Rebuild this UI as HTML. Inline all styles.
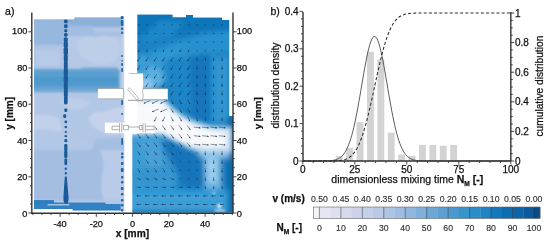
<!DOCTYPE html>
<html><head><meta charset="utf-8"><style>
html,body{margin:0;padding:0;background:#fff;width:550px;height:243px;overflow:hidden}
svg{display:block}
text{font-family:"Liberation Sans", Arial, Helvetica, sans-serif;fill:#111;stroke:#111;stroke-width:0.25px}
text.g{fill:#333;stroke:#333;stroke-width:0.15px}
</style></head><body>
<svg width="550" height="243" viewBox="0 0 550 243">
<defs>
<filter id="bl1" x="-20%" y="-20%" width="140%" height="140%"><feGaussianBlur stdDeviation="1"/></filter>
<filter id="bl2" x="-20%" y="-20%" width="140%" height="140%"><feGaussianBlur stdDeviation="2.5"/></filter>
<filter id="bl3" x="-30%" y="-30%" width="160%" height="160%"><feGaussianBlur stdDeviation="2.6"/></filter>
<clipPath id="cl"><path d="M34,19.5 H74.5 V17.6 H124.4 V210.5 H72.7 V209 H34 Z"/></clipPath>
<clipPath id="cr"><path d="M131.5,14.8 H172.4 V17.6 H186 V15.1 H193 V17.8 H222 V19.9 H229.4 V116 H233 V212.5 H131.5 Z"/></clipPath>
<marker id="ah" viewBox="0 0 4 4" refX="3" refY="2" markerWidth="2.2" markerHeight="2.2" orient="auto" markerUnits="userSpaceOnUse"><path d="M0,0 L4,2 L0,4 Z" fill="#152335"/></marker>
</defs>

<g clip-path="url(#cl)">
<rect x="30" y="10" width="100" height="210" fill="#b2c6e5"/>
<g filter="url(#bl1)">
<path d="M30,10 H130 V27 H30 Z" fill="#8db0d9"/>
<path d="M30,20 H66 V45 H30 Z" fill="#96b7de"/>
<path d="M66,26 H92 L95,33 H126 V36 H66 Z" fill="#a1bee2"/>
<path d="M30,45 H66 V68 H30 Z" fill="#adc4e4"/>
<path d="M36,50 H60 V66 H36 Z" fill="#b7cae7"/>
<path d="M66,36 H126 V68 H66 Z" fill="#b5c9e6"/>
<path d="M78,42 Q85,34 95,38 Q105,33 118,38 L121,50 Q118,62 108,64 Q98,66 90,60 Q80,58 78,50 Z" fill="#bdcee9"/>
<path d="M30,68.8 H80 L84,67.5 H117 L119.5,70 V93.5 H30 Z" fill="#6aa6d4"/>
<path d="M30,71 H119 V88 H30 Z" fill="#5a9fd0"/>
<path d="M30,77 H119 V85 H30 Z" fill="#4f9acc"/>
<path d="M30,88 H119 V93.5 H30 Z" fill="#6ea8d5"/>
<path d="M30,92 H119 V93.2 H30 Z" fill="#9dbde0"/>
<path d="M30,93 H126 V150 H30 Z" fill="#b2c6e5"/>
<path d="M34,95 H36 V211 H34 Z" fill="#bfcbe9"/>
<path d="M34,116 Q45,112 58,118 Q64,128 58,138 Q45,142 34,138 Z" fill="#c2d1ea"/>
<path d="M88,118 Q95,110 105,112 Q115,106 125,108 V134 Q112,136 102,132 Q92,128 88,118 Z" fill="#c4d3eb"/>
<path d="M60,100 Q75,96 90,102 Q88,110 70,110 Z" fill="#bdcee9"/>
<path d="M86,140 L125,137 V152 L90,150 Z" fill="#a5bfe2"/>
<path d="M30,148 H126 V200 H30 Z" fill="#a4bee1"/>
<path d="M99,150 Q107,160 102,175 Q100,190 104,200 H126 V150 Z" fill="#bacbe9"/>
<path d="M30,130 Q50,128 70,134 Q80,140 95,140 L92,150 H30 Z" fill="#b3c7e6"/>
<path d="M122.5,17 H126 V140 H122.5 Z" fill="#ccd7ee"/>
</g>
<path d="M30,200.2 H54 V202.4 H105.4 V204 H120.7 V215 H30 Z" fill="#3282c3"/>
<path d="M30,200.2 H54 V204 H30 Z" fill="#2e7ec0"/>
<path d="M47.6,204.1 H69.4 V205.6 H47.6 Z" fill="#a3c4e6"/>
<g>
</g>
</g>
<rect x="63.90" y="19.60" width="3.80" height="3.60" rx="1.52" fill="#1a5a99" opacity="1"/><rect x="64.00" y="24.30" width="3.60" height="3.90" rx="1.44" fill="#1a5a99" opacity="1"/><rect x="64.20" y="29.20" width="3.20" height="3.00" rx="1.28" fill="#1a5a99" opacity="1"/><rect x="64.00" y="33.00" width="3.60" height="3.80" rx="1.44" fill="#1a5a99" opacity="1"/><rect x="63.80" y="37.20" width="4.00" height="4.80" rx="1.60" fill="#1a5a99" opacity="1"/><rect x="63.70" y="41.00" width="4.20" height="7.00" rx="1.68" fill="#1a5a99" opacity="1"/><rect x="63.60" y="47.00" width="4.40" height="8.00" rx="1.76" fill="#1a5a99" opacity="1"/><rect x="63.80" y="54.00" width="4.00" height="8.00" rx="1.60" fill="#1a5a99" opacity="1"/><rect x="63.85" y="61.00" width="3.90" height="8.00" rx="1.56" fill="#1a5a99" opacity="1"/><rect x="63.70" y="68.00" width="4.20" height="8.00" rx="1.68" fill="#1a5a99" opacity="1"/><rect x="63.60" y="75.00" width="4.40" height="8.00" rx="1.76" fill="#1a5a99" opacity="1"/><rect x="63.75" y="82.00" width="4.10" height="8.00" rx="1.64" fill="#1a5a99" opacity="1"/><rect x="63.85" y="89.00" width="3.90" height="8.00" rx="1.56" fill="#1a5a99" opacity="1"/><rect x="63.95" y="96.00" width="3.70" height="8.50" rx="1.48" fill="#1a5a99" opacity="1"/><rect x="64.30" y="108.50" width="3.00" height="3.50" rx="1.20" fill="#1a5a99" opacity="1"/><rect x="64.50" y="120.50" width="2.60" height="2.70" rx="1.04" fill="#1a5a99" opacity="1"/><rect x="64.60" y="125.80" width="2.40" height="2.40" rx="0.96" fill="#1a5a99" opacity="1"/><rect x="64.70" y="131.00" width="2.20" height="2.00" rx="0.88" fill="#1a5a99" opacity="1"/><rect x="64.50" y="135.00" width="2.60" height="2.20" rx="1.04" fill="#1a5a99" opacity="1"/><rect x="64.30" y="139.00" width="3.00" height="3.20" rx="1.20" fill="#1a5a99" opacity="1"/><rect x="64.20" y="144.00" width="3.20" height="7.00" rx="1.28" fill="#1a5a99" opacity="1"/><rect x="64.20" y="150.50" width="3.20" height="7.50" rx="1.28" fill="#1a5a99" opacity="1"/><rect x="64.40" y="158.50" width="2.80" height="6.50" rx="1.12" fill="#1a5a99" opacity="1"/><rect x="64.70" y="167.50" width="2.20" height="2.50" rx="0.88" fill="#1a5a99" opacity="1"/><rect x="64.70" y="172.00" width="2.20" height="2.50" rx="0.88" fill="#1a5a99" opacity="1"/><rect x="64.70" y="176.50" width="2.20" height="2.50" rx="0.88" fill="#1a5a99" opacity="1"/>
<rect x="63.2" y="114.3" width="3" height="3.6" rx="1.2" fill="#1a5a99"/>
<path d="M64.6,179 Q65.8,176.5 67,179 L68.6,198 Q68.6,203.8 66,203.8 Q63.4,203.8 63.4,198 Z" fill="#1a5a99"/>
<rect x="120.60" y="16.00" width="3.00" height="3.00" rx="1.20" fill="#2367a8" opacity="1"/><rect x="120.80" y="20.00" width="2.60" height="6.00" rx="1.04" fill="#2367a8" opacity="1"/><rect x="120.90" y="27.50" width="2.40" height="2.50" rx="0.96" fill="#2367a8" opacity="1"/><rect x="121.00" y="31.50" width="2.20" height="2.50" rx="0.88" fill="#2367a8" opacity="1"/><rect x="121.20" y="55.00" width="1.80" height="2.00" rx="0.72" fill="#2367a8" opacity="1"/><rect x="121.30" y="60.00" width="1.60" height="1.50" rx="0.64" fill="#2367a8" opacity="1"/><rect x="121.20" y="63.00" width="1.80" height="3.00" rx="0.72" fill="#2367a8" opacity="1"/><rect x="121.20" y="68.00" width="1.80" height="4.00" rx="0.72" fill="#2367a8" opacity="1"/><rect x="121.20" y="100.00" width="1.80" height="5.00" rx="0.72" fill="#2367a8" opacity="1"/><rect x="121.20" y="113.00" width="1.80" height="2.00" rx="0.72" fill="#2367a8" opacity="1"/><rect x="121.20" y="138.00" width="1.80" height="7.00" rx="0.72" fill="#2367a8" opacity="1"/>
<rect x="121.00" y="152.50" width="2.40" height="2.50" rx="0.96" fill="#1f66a8" opacity="1"/><rect x="120.90" y="156.00" width="2.60" height="2.50" rx="1.04" fill="#1f66a8" opacity="1"/><rect x="120.90" y="162.00" width="2.60" height="3.00" rx="1.04" fill="#1f66a8" opacity="1"/><rect x="120.80" y="168.00" width="2.80" height="4.00" rx="1.12" fill="#1f66a8" opacity="1"/><rect x="121.00" y="176.00" width="2.40" height="2.50" rx="0.96" fill="#1f66a8" opacity="1"/><rect x="120.90" y="181.00" width="2.60" height="2.50" rx="1.04" fill="#1f66a8" opacity="1"/><rect x="120.80" y="187.00" width="2.80" height="3.00" rx="1.12" fill="#1f66a8" opacity="1"/><rect x="120.90" y="193.00" width="2.60" height="2.50" rx="1.04" fill="#1f66a8" opacity="1"/><rect x="120.90" y="199.00" width="2.60" height="2.50" rx="1.04" fill="#1f66a8" opacity="1"/><rect x="120.90" y="204.00" width="2.60" height="2.50" rx="1.04" fill="#1f66a8" opacity="1"/><rect x="120.90" y="209.00" width="2.60" height="2.50" rx="1.04" fill="#1f66a8" opacity="1"/>
<g clip-path="url(#cr)">
<rect x="125" y="10" width="112" height="205" fill="#1980c2"/>
<g filter="url(#bl2)">
<path d="M125,10 H237 V34 H125 Z" fill="#1174ba"/>
<path d="M180,30 H237 V52 H180 Z" fill="#1478bd"/>
<path d="M237,30 V52 L200,54 L178,66 L165,85 L150,92 L131,92 L131,60 L150,50 L180,40 L205,33 Z" fill="#2591ce"/>
<path d="M185,45 L170,60 L160,75 L148,88 L136,88 L136,66 L152,56 L170,48 Z" fill="#2e99d4"/>
<path d="M160,20 L185,22 L170,36 L150,44 L140,40 Z" fill="#1e87c8"/>
<ellipse cx="150" cy="78" rx="14" ry="12" fill="#5aaee0"/>
<ellipse cx="142" cy="64" rx="6" ry="10" fill="#3a9dd6"/>
<ellipse cx="146" cy="84" rx="7" ry="5" fill="#95cbef"/>
<path d="M189,56 L211,54 L212,122 L192,118 Z" fill="#1574bb"/>
<path d="M213,58 L229,56 L229,122 L213,122 Z" fill="#3094d1"/>
<path d="M211,55 L216,55 L216,122 L211,122 Z" fill="#2895d2"/>
<path d="M165,60 L190,58 L192,110 L170,100 Z" fill="#1c85c6"/>
<path d="M125,132 L182,138 L176,192 L125,192 Z" fill="#3595d0"/>
<path d="M131,136 L165,138 L160,165 L131,170 Z" fill="#3d9dd5"/>
<path d="M140,140 L158,140 L165,165 L150,168 Z" fill="#4aa0d8"/>
<path d="M165,135 L180,138 L195,145 L205,150 L206,170 L204,190 L188,192 L178,175 L170,160 L162,145 Z" fill="#1775ba"/>
<path d="M221,145 H237 V215 H221 Z" fill="#177abe"/>
<path d="M203,150 L221,150 L221,192 L205,194 Z" fill="#6fb5e3"/>
<path d="M207,152 L217,152 L217,182 L208,182 Z" fill="#9ccdee"/>
<path d="M227.5,116 H237 V215 H227.5 Z" fill="#0d66a5"/>
<path d="M196,146 L229,149 L229,158 L200,157 Z" fill="#86c0e8"/>
<path d="M125,189 H228 V215 H125 Z" fill="#2c99d5"/>
<path d="M125,196.5 H225 V199.5 H125 Z" fill="#55a9dc"/>
<path d="M125,205 H225 V208 H125 Z" fill="#52a7db"/>
<path d="M125,210.5 H237 V215 H125 Z" fill="#1777bb"/>
</g>
<g filter="url(#bl3)">
<path d="M125,99 L163,98 L172,107 L182,115 L194,121 L210,126 L232,127 L232,152 L210,152 L192,150 L178,143 L162,135 L125,135 Z" fill="#d2e3f3"/>
<path d="M125,101 L161,101 L169,109 L180,118 L195,126 L212,131 L226,134 L226,146 L210,147 L193,146 L178,140 L162,133 L125,133 Z" fill="#f7f9fc"/>
</g>
<g filter="url(#bl1)">
<circle cx="219.3" cy="206" r="2.3" fill="#d2e4f3"/>
<ellipse cx="220" cy="210.5" rx="6" ry="1.3" fill="#b0d8f0"/>
<circle cx="214" cy="193" r="1.5" fill="#a0cdef"/>
</g>
</g>
<rect x="124.5" y="0" width="12.8" height="134" fill="#fff"/>
<rect x="124.5" y="73.5" width="18.6" height="27" fill="#fff"/>
<rect x="124.5" y="133" width="7.8" height="80" fill="#fff"/>
<rect x="229.4" y="0" width="3.6" height="116" fill="#fff"/>
<path d="M137.8,24.8L139.8,25.0 M137.8,33.3L139.8,33.6 M137.8,41.9L139.8,42.1 M139.5,49.4L138.1,51.7 M140.1,57.1L137.5,61.1 M140.1,65.6L137.5,69.7 M137.3,133.9L140.3,138.2 M137.3,142.5L140.3,146.7 M137.7,151.3L139.9,155.0 M137.7,159.8L139.9,163.6 M137.7,168.4L139.9,172.1 M137.0,178.1L140.6,179.5 M136.8,187.2L140.8,187.5 M140.8,195.9L136.8,195.9 M140.8,204.5L136.8,204.5 M146.1,24.8L148.1,25.0 M146.1,33.3L148.1,33.6 M146.1,41.9L148.1,42.1 M147.8,49.4L146.4,51.7 M148.4,57.1L145.9,61.1 M148.4,65.6L145.9,69.7 M148.4,74.2L145.9,78.2 M148.4,82.7L145.9,86.8 M150.3,100.4L143.9,103.3 M145.6,133.9L148.6,138.2 M145.6,142.5L148.6,146.7 M146.0,151.3L148.3,155.0 M146.0,159.8L148.3,163.6 M146.0,168.4L148.3,172.1 M145.4,178.1L148.9,179.5 M145.1,187.2L149.1,187.5 M149.1,195.9L145.1,195.9 M149.1,204.5L145.1,204.5 M154.5,24.8L156.4,25.0 M154.5,33.3L156.4,33.6 M154.5,41.9L156.4,42.1 M156.1,49.4L154.8,51.7 M156.7,57.1L154.2,61.1 M156.7,65.6L154.2,69.7 M156.7,74.2L154.2,78.2 M156.7,82.7L154.2,86.8 M158.6,100.4L152.2,103.3 M158.6,109.0L152.2,111.8 M156.6,116.7L154.3,121.2 M153.9,125.4L156.9,129.6 M153.9,133.9L156.9,138.2 M153.9,142.5L156.9,146.7 M154.3,151.3L156.6,155.0 M154.3,159.8L156.6,163.6 M154.3,168.4L156.6,172.1 M153.7,178.1L157.2,179.5 M153.4,187.2L157.4,187.5 M157.4,195.9L153.4,195.9 M157.4,204.5L153.4,204.5 M162.8,24.8L164.7,25.0 M162.8,33.3L164.7,33.6 M162.8,41.9L164.7,42.1 M164.4,49.4L163.1,51.7 M165.0,57.1L162.5,61.1 M165.0,65.6L162.5,69.7 M165.0,74.2L162.5,78.2 M165.0,82.7L162.5,86.8 M167.0,100.4L160.6,103.3 M167.0,109.0L160.6,111.8 M164.9,116.7L162.6,121.2 M162.3,125.4L165.3,129.6 M162.3,133.9L165.3,138.2 M162.3,142.5L165.3,146.7 M162.6,151.3L164.9,155.0 M162.6,159.8L164.9,163.6 M162.6,168.4L164.9,172.1 M162.0,178.1L165.5,179.5 M161.8,187.2L165.8,187.5 M165.8,195.9L161.8,195.9 M165.8,204.5L161.8,204.5 M171.1,24.8L173.1,25.0 M171.1,33.3L173.1,33.6 M171.1,41.9L173.1,42.1 M172.8,49.4L171.4,51.7 M173.3,57.1L170.8,61.1 M173.3,65.6L170.8,69.7 M173.3,74.2L170.8,78.2 M173.3,82.7L170.8,86.8 M173.3,91.3L170.8,95.3 M170.9,99.7L173.2,104.0 M170.9,108.3L173.2,112.5 M170.9,116.8L173.2,121.1 M170.6,125.4L173.6,129.6 M170.6,133.9L173.6,138.2 M170.6,142.5L173.6,146.7 M170.9,151.3L173.2,155.0 M170.9,159.8L173.2,163.6 M170.9,168.4L173.2,172.1 M170.3,178.1L173.8,179.5 M170.1,187.2L174.1,187.5 M174.1,195.9L170.1,195.9 M174.1,204.5L170.1,204.5 M179.4,24.8L181.4,25.0 M179.4,33.3L181.4,33.6 M179.4,41.9L181.4,42.1 M181.1,49.4L179.7,51.7 M181.7,57.1L179.1,61.1 M181.7,65.6L179.1,69.7 M181.7,74.2L179.1,78.2 M181.7,82.7L179.1,86.8 M181.7,91.3L179.1,95.3 M179.2,99.7L181.6,104.0 M179.2,108.3L181.6,112.5 M179.2,116.8L181.6,121.1 M178.9,125.4L181.9,129.6 M178.9,133.9L181.9,138.2 M178.9,142.5L181.9,146.7 M179.8,152.1L181.0,154.2 M179.8,160.7L181.0,162.7 M179.8,169.2L181.0,171.3 M179.3,178.4L181.5,179.2 M178.4,187.2L182.4,187.5 M182.4,195.9L178.4,195.9 M182.4,204.5L178.4,204.5 M187.7,24.8L189.7,25.0 M187.7,33.3L189.7,33.6 M187.7,41.9L189.7,42.1 M189.4,49.4L188.0,51.7 M190.0,57.1L187.5,61.1 M190.0,65.6L187.5,69.7 M190.0,74.2L187.5,78.2 M190.0,82.7L187.5,86.8 M190.0,91.3L187.5,95.3 M187.6,99.7L189.9,104.0 M187.6,108.3L189.9,112.5 M187.6,116.8L189.9,121.1 M187.2,125.4L190.2,129.6 M187.2,133.9L190.2,138.2 M187.2,142.5L190.2,146.7 M188.1,152.1L189.3,154.2 M188.1,160.7L189.3,162.7 M188.1,169.2L189.3,171.3 M187.6,178.4L189.8,179.2 M186.7,187.2L190.7,187.5 M190.7,195.9L186.7,195.9 M190.7,204.5L186.7,204.5 M196.1,24.8L198.0,25.0 M196.1,33.3L198.0,33.6 M196.1,41.9L198.0,42.1 M197.0,49.6L197.1,51.5 M197.0,57.3L197.1,60.9 M197.0,65.9L197.1,69.4 M197.0,74.4L197.1,78.0 M197.0,83.0L197.1,86.5 M197.0,91.5L197.1,95.1 M196.5,99.9L197.6,103.8 M196.5,108.5L197.6,112.3 M196.5,117.0L197.6,120.9 M193.8,127.1L200.3,127.9 M193.8,135.7L200.3,136.4 M193.8,144.2L200.3,145.0 M196.4,152.1L197.7,154.2 M196.4,160.7L197.7,162.7 M196.4,169.2L197.7,171.3 M195.9,178.4L198.2,179.2 M195.0,187.2L199.0,187.5 M199.0,195.9L195.0,195.9 M199.0,204.5L195.0,204.5 M204.4,24.8L206.3,25.0 M204.4,33.3L206.3,33.6 M204.4,41.9L206.3,42.1 M205.3,49.6L205.4,51.5 M205.3,57.3L205.4,60.9 M205.3,65.9L205.4,69.4 M205.3,74.4L205.4,78.0 M205.3,83.0L205.4,86.5 M205.3,91.5L205.4,95.1 M205.3,100.1L205.4,103.6 M205.3,108.6L205.4,112.2 M205.3,117.2L205.4,120.7 M202.1,127.1L208.6,127.9 M202.1,135.7L208.6,136.4 M202.1,144.2L208.6,145.0 M205.3,151.3L205.4,155.0 M205.3,159.8L205.4,163.6 M205.3,168.4L205.4,172.1 M205.3,176.9L205.4,180.7 M205.2,185.9L205.5,188.8 M207.4,195.9L203.4,195.9 M207.4,204.5L203.4,204.5 M212.7,24.8L214.7,25.0 M212.7,33.3L214.7,33.6 M212.7,41.9L214.7,42.1 M213.7,49.6L213.7,51.5 M213.6,57.3L213.7,60.9 M213.6,65.9L213.7,69.4 M213.6,74.4L213.7,78.0 M213.6,83.0L213.7,86.5 M213.6,91.5L213.7,95.1 M213.6,100.1L213.7,103.6 M213.6,108.6L213.7,112.2 M213.6,117.2L213.7,120.7 M210.5,127.1L216.9,127.9 M210.5,135.7L216.9,136.4 M210.5,144.2L216.9,145.0 M213.6,151.3L213.7,155.0 M213.6,159.8L213.7,163.6 M213.6,168.4L213.7,172.1 M213.6,176.9L213.7,180.7 M213.5,185.9L213.8,188.8 M215.7,195.9L211.7,195.9 M215.7,204.5L211.7,204.5 M221.0,24.8L223.0,25.0 M221.0,33.3L223.0,33.6 M221.0,41.9L223.0,42.1 M222.0,49.6L222.0,51.5 M222.0,57.3L222.0,60.9 M222.0,65.9L222.0,69.4 M222.0,74.4L222.0,78.0 M222.0,83.0L222.0,86.5 M222.0,91.5L222.0,95.1 M222.0,100.1L222.0,103.6 M222.0,108.6L222.0,112.2 M222.0,117.2L222.0,120.7 M218.8,127.1L225.2,127.9 M218.8,135.7L225.2,136.4 M218.8,144.2L225.2,145.0 M222.0,151.3L222.0,155.0 M222.0,159.8L222.0,163.6 M222.0,168.4L222.0,172.1 M222.0,176.9L222.0,180.7 M221.9,185.9L222.1,188.8 M224.0,195.9L220.0,195.9 M224.0,204.5L220.0,204.5" stroke="#1b2838" stroke-width="0.5" fill="none"/>
<path d="M138.0,51.9L138.2,50.2L139.3,50.9Z M137.4,61.4L137.6,59.7L138.7,60.4Z M137.4,69.9L137.6,68.3L138.7,69.0Z M140.5,138.4L139.0,137.5L140.1,136.8Z M140.5,147.0L139.0,146.1L140.1,145.3Z M140.1,155.3L138.7,154.3L139.8,153.6Z M140.1,163.8L138.7,162.8L139.8,162.2Z M140.1,172.4L138.7,171.4L139.8,170.7Z M140.8,179.6L139.2,179.6L139.6,178.4Z M141.1,187.6L139.5,188.1L139.6,186.8Z M136.5,195.9L138.1,195.2L138.1,196.6Z M136.5,204.5L138.1,203.8L138.1,205.1Z M146.3,51.9L146.5,50.2L147.6,50.9Z M145.7,61.4L146.0,59.7L147.1,60.4Z M145.7,69.9L146.0,68.3L147.1,69.0Z M145.7,78.5L146.0,76.8L147.1,77.5Z M145.7,87.0L146.0,85.4L147.1,86.1Z M143.7,103.4L144.8,102.2L145.3,103.4Z M148.8,138.4L147.4,137.5L148.4,136.8Z M148.8,147.0L147.4,146.1L148.4,145.3Z M148.4,155.3L147.1,154.3L148.2,153.6Z M148.4,163.8L147.1,162.8L148.2,162.2Z M148.4,172.4L147.1,171.4L148.2,170.7Z M149.2,179.6L147.5,179.6L148.0,178.4Z M149.4,187.6L147.8,188.1L147.9,186.8Z M144.8,195.9L146.4,195.2L146.4,196.6Z M144.8,204.5L146.4,203.8L146.4,205.1Z M154.6,51.9L154.9,50.2L156.0,50.9Z M154.0,61.4L154.3,59.7L155.4,60.4Z M154.0,69.9L154.3,68.3L155.4,69.0Z M154.0,78.5L154.3,76.8L155.4,77.5Z M154.0,87.0L154.3,85.4L155.4,86.1Z M152.0,103.4L153.1,102.2L153.7,103.4Z M152.0,112.0L153.1,110.7L153.7,111.9Z M154.2,121.5L154.3,119.8L155.5,120.4Z M157.1,129.9L155.7,129.0L156.7,128.2Z M157.1,138.4L155.7,137.5L156.7,136.8Z M157.1,147.0L155.7,146.1L156.7,145.3Z M156.7,155.3L155.4,154.3L156.5,153.6Z M156.7,163.8L155.4,162.8L156.5,162.2Z M156.7,172.4L155.4,171.4L156.5,170.7Z M157.5,179.6L155.8,179.6L156.3,178.4Z M157.7,187.6L156.1,188.1L156.3,186.8Z M153.1,195.9L154.7,195.2L154.7,196.6Z M153.1,204.5L154.7,203.8L154.7,205.1Z M162.9,51.9L163.2,50.2L164.3,50.9Z M162.3,61.4L162.6,59.7L163.7,60.4Z M162.3,69.9L162.6,68.3L163.7,69.0Z M162.3,78.5L162.6,76.8L163.7,77.5Z M162.3,87.0L162.6,85.4L163.7,86.1Z M160.3,103.4L161.4,102.2L162.0,103.4Z M160.3,112.0L161.4,110.7L162.0,111.9Z M162.5,121.5L162.6,119.8L163.8,120.4Z M165.4,129.9L164.0,129.0L165.1,128.2Z M165.4,138.4L164.0,137.5L165.1,136.8Z M165.4,147.0L164.0,146.1L165.1,145.3Z M165.0,155.3L163.7,154.3L164.8,153.6Z M165.0,163.8L163.7,162.8L164.8,162.2Z M165.0,172.4L163.7,171.4L164.8,170.7Z M165.8,179.6L164.1,179.6L164.6,178.4Z M166.0,187.6L164.4,188.1L164.6,186.8Z M161.5,195.9L163.0,195.2L163.0,196.6Z M161.5,204.5L163.0,203.8L163.0,205.1Z M171.2,51.9L171.5,50.2L172.6,50.9Z M170.7,61.4L170.9,59.7L172.0,60.4Z M170.7,69.9L170.9,68.3L172.0,69.0Z M170.7,78.5L170.9,76.8L172.0,77.5Z M170.7,87.0L170.9,85.4L172.0,86.1Z M170.7,95.6L170.9,93.9L172.0,94.6Z M173.4,104.2L172.1,103.2L173.2,102.5Z M173.4,112.8L172.1,111.7L173.2,111.1Z M173.4,121.3L172.1,120.3L173.2,119.6Z M173.7,129.9L172.3,129.0L173.4,128.2Z M173.7,138.4L172.3,137.5L173.4,136.8Z M173.7,147.0L172.3,146.1L173.4,145.3Z M173.4,155.3L172.0,154.3L173.1,153.6Z M173.4,163.8L172.0,162.8L173.1,162.2Z M173.4,172.4L172.0,171.4L173.1,170.7Z M174.1,179.6L172.4,179.6L172.9,178.4Z M174.4,187.6L172.8,188.1L172.9,186.8Z M169.8,195.9L171.3,195.2L171.3,196.6Z M169.8,204.5L171.3,203.8L171.3,205.1Z M179.6,51.9L179.8,50.2L180.9,50.9Z M179.0,61.4L179.2,59.7L180.3,60.4Z M179.0,69.9L179.2,68.3L180.3,69.0Z M179.0,78.5L179.2,76.8L180.3,77.5Z M179.0,87.0L179.2,85.4L180.3,86.1Z M179.0,95.6L179.2,93.9L180.3,94.6Z M181.7,104.2L180.4,103.2L181.5,102.5Z M181.7,112.8L180.4,111.7L181.5,111.1Z M181.7,121.3L180.4,120.3L181.5,119.6Z M182.1,129.9L180.6,129.0L181.7,128.2Z M182.1,138.4L180.6,137.5L181.7,136.8Z M182.1,147.0L180.6,146.1L181.7,145.3Z M182.7,187.6L181.1,188.1L181.2,186.8Z M178.1,195.9L179.7,195.2L179.7,196.6Z M178.1,204.5L179.7,203.8L179.7,205.1Z M187.9,51.9L188.1,50.2L189.2,50.9Z M187.3,61.4L187.6,59.7L188.7,60.4Z M187.3,69.9L187.6,68.3L188.7,69.0Z M187.3,78.5L187.6,76.8L188.7,77.5Z M187.3,87.0L187.6,85.4L188.7,86.1Z M187.3,95.6L187.6,93.9L188.7,94.6Z M190.0,104.2L188.7,103.2L189.8,102.5Z M190.0,112.8L188.7,111.7L189.8,111.1Z M190.0,121.3L188.7,120.3L189.8,119.6Z M190.4,129.9L189.0,129.0L190.0,128.2Z M190.4,138.4L189.0,137.5L190.0,136.8Z M190.4,147.0L189.0,146.1L190.0,145.3Z M191.0,187.6L189.4,188.1L189.5,186.8Z M186.4,195.9L188.0,195.2L188.0,196.6Z M186.4,204.5L188.0,203.8L188.0,205.1Z M197.1,61.2L196.4,59.7L197.7,59.6Z M197.1,69.7L196.4,68.2L197.7,68.2Z M197.1,78.3L196.4,76.8L197.7,76.7Z M197.1,86.8L196.4,85.3L197.7,85.3Z M197.1,95.4L196.4,93.9L197.7,93.8Z M197.7,104.1L196.6,102.8L197.9,102.4Z M197.7,112.6L196.6,111.3L197.9,110.9Z M197.7,121.2L196.6,119.9L197.9,119.5Z M200.6,127.9L198.9,128.4L199.1,127.1Z M200.6,136.5L198.9,136.9L199.1,135.6Z M200.6,145.0L198.9,145.5L199.1,144.2Z M199.3,187.6L197.7,188.1L197.9,186.8Z M194.7,195.9L196.3,195.2L196.3,196.6Z M194.7,204.5L196.3,203.8L196.3,205.1Z M205.4,61.2L204.7,59.7L206.0,59.6Z M205.4,69.7L204.7,68.2L206.0,68.2Z M205.4,78.3L204.7,76.8L206.0,76.7Z M205.4,86.8L204.7,85.3L206.0,85.3Z M205.4,95.4L204.7,93.9L206.0,93.8Z M205.4,103.9L204.7,102.4L206.0,102.4Z M205.4,112.5L204.7,111.0L206.0,110.9Z M205.4,121.0L204.7,119.5L206.0,119.5Z M208.9,127.9L207.3,128.4L207.4,127.1Z M208.9,136.5L207.3,136.9L207.4,135.6Z M208.9,145.0L207.3,145.5L207.4,144.2Z M205.4,155.3L204.7,153.8L206.0,153.8Z M205.4,163.9L204.7,162.4L206.0,162.3Z M205.4,172.4L204.7,170.9L206.0,170.9Z M205.4,181.0L204.7,179.5L206.0,179.4Z M205.5,189.1L204.7,187.7L206.0,187.5Z M203.1,195.9L204.6,195.2L204.6,196.6Z M203.1,204.5L204.6,203.8L204.6,205.1Z M213.7,61.2L213.0,59.7L214.3,59.6Z M213.7,69.7L213.0,68.2L214.3,68.2Z M213.7,78.3L213.0,76.8L214.3,76.7Z M213.7,86.8L213.0,85.3L214.3,85.3Z M213.7,95.4L213.0,93.9L214.3,93.8Z M213.7,103.9L213.0,102.4L214.3,102.4Z M213.7,112.5L213.0,111.0L214.3,110.9Z M213.7,121.0L213.0,119.5L214.3,119.5Z M217.2,127.9L215.6,128.4L215.7,127.1Z M217.2,136.5L215.6,136.9L215.7,135.6Z M217.2,145.0L215.6,145.5L215.7,144.2Z M213.7,155.3L213.0,153.8L214.3,153.8Z M213.7,163.9L213.0,162.4L214.3,162.3Z M213.7,172.4L213.0,170.9L214.3,170.9Z M213.7,181.0L213.0,179.5L214.3,179.4Z M213.9,189.1L213.1,187.7L214.4,187.5Z M211.4,195.9L212.9,195.2L212.9,196.6Z M211.4,204.5L212.9,203.8L212.9,205.1Z M222.0,61.2L221.4,59.7L222.7,59.6Z M222.0,69.7L221.4,68.2L222.7,68.2Z M222.0,78.3L221.4,76.8L222.7,76.7Z M222.0,86.8L221.4,85.3L222.7,85.3Z M222.0,95.4L221.4,93.9L222.7,93.8Z M222.0,103.9L221.4,102.4L222.7,102.4Z M222.0,112.5L221.4,111.0L222.7,110.9Z M222.0,121.0L221.4,119.5L222.7,119.5Z M225.5,127.9L223.9,128.4L224.1,127.1Z M225.5,136.5L223.9,136.9L224.1,135.6Z M225.5,145.0L223.9,145.5L224.1,144.2Z M222.0,155.3L221.4,153.8L222.7,153.8Z M222.0,163.9L221.4,162.4L222.7,162.3Z M222.0,172.4L221.4,170.9L222.7,170.9Z M222.0,181.0L221.4,179.5L222.7,179.4Z M222.2,189.1L221.4,187.7L222.7,187.5Z M219.7,195.9L221.2,195.2L221.2,196.6Z M219.7,204.5L221.2,203.8L221.2,205.1Z" fill="#1b2838"/>
<g fill="#fff" stroke="#8d8d8d" stroke-width="0.6">
<path d="M129,73.6 H137.5" fill="none"/>
<rect x="98" y="88.5" width="25.5" height="10.3" stroke="none"/>
<path d="M98,88.5 H123.3 M98,98.8 H123.3 M123.3,88.5 Q124.3,93.5 123.3,98.8" fill="none"/>
<rect x="142.5" y="88.7" width="25.3" height="10.9" stroke="none"/>
<path d="M142.5,88.7 H167.8 M142.5,99.6 H167.8 M143.5,88.7 Q141.8,90.5 142.8,93 Q143.8,96 142.5,99.6" fill="none"/>
<path d="M127.6,89.6 L129.6,87.8 L138.8,98.4 L136.8,100.2 Z"/>
<path d="M128,100.3 H143" stroke="#555" fill="none"/>
<rect x="104.9" y="122.6" width="49.6" height="10.5" stroke="none"/>
</g>
<g fill="none" stroke="#6e6e6e" stroke-width="0.55">
<path d="M112,126.2 H119.6 M112,129.7 H119.6 M112,126.2 V129.7 M119.6,123.2 V132.4 M121.8,123.2 V132.4 M123.4,125.4 V129.7 H128.4 V125.4 H123.4 M128.4,127 H139.3"/>
<path d="M139.3,125.4 H142 V129.7 H139.3 Z M143,123.2 V132.4 M145.3,123.2 V132.4 M145.8,126.2 H154 V129.7 H145.8"/>
</g>
<path d="M31.8,12.5 V213.3 H233 M233,12.5 V213.3" stroke="#333" stroke-width="1.4" fill="none"/>
<path d="M28.3,213.0H31.8 M233,213.0H236.5 M28.3,176.8H31.8 M233,176.8H236.5 M28.3,140.5H31.8 M233,140.5H236.5 M28.3,104.2H31.8 M233,104.2H236.5 M28.3,68.0H31.8 M233,68.0H236.5 M28.3,31.8H31.8 M233,31.8H236.5 M30,203.9H31.8 M233,203.9H234.8 M30,194.9H31.8 M233,194.9H234.8 M30,185.8H31.8 M233,185.8H234.8 M30,167.7H31.8 M233,167.7H234.8 M30,158.6H31.8 M233,158.6H234.8 M30,149.6H31.8 M233,149.6H234.8 M30,131.4H31.8 M233,131.4H234.8 M30,122.4H31.8 M233,122.4H234.8 M30,113.3H31.8 M233,113.3H234.8 M30,95.2H31.8 M233,95.2H234.8 M30,86.1H31.8 M233,86.1H234.8 M30,77.1H31.8 M233,77.1H234.8 M30,58.9H31.8 M233,58.9H234.8 M30,49.9H31.8 M233,49.9H234.8 M30,40.8H31.8 M233,40.8H234.8 M60.1,213.3V216.8 M96.3,213.3V216.8 M132.6,213.3V216.8 M168.8,213.3V216.8 M205.1,213.3V216.8 M32.9,213.3V215.1 M42.0,213.3V215.1 M51.0,213.3V215.1 M69.2,213.3V215.1 M78.2,213.3V215.1 M87.3,213.3V215.1 M105.4,213.3V215.1 M114.5,213.3V215.1 M123.5,213.3V215.1 M141.7,213.3V215.1 M150.7,213.3V215.1 M159.8,213.3V215.1 M177.9,213.3V215.1 M187.0,213.3V215.1 M196.0,213.3V215.1 M214.2,213.3V215.1 M223.2,213.3V215.1 M232.3,213.3V215.1" stroke="#333" stroke-width="0.9" fill="none"/>
<text x="27.4" y="216.8" font-size="9.2" text-anchor="end">0</text>
<text x="236.8" y="216.8" font-size="9.2">0</text>
<text x="27.4" y="180.2" font-size="9.2" text-anchor="end">20</text>
<text x="236.8" y="180.2" font-size="9.2">20</text>
<text x="27.4" y="143.7" font-size="9.2" text-anchor="end">40</text>
<text x="236.8" y="143.7" font-size="9.2">40</text>
<text x="27.4" y="107.1" font-size="9.2" text-anchor="end">60</text>
<text x="236.8" y="107.1" font-size="9.2">60</text>
<text x="27.4" y="70.6" font-size="9.2" text-anchor="end">80</text>
<text x="236.8" y="70.6" font-size="9.2">80</text>
<text x="27.4" y="34.1" font-size="9.2" text-anchor="end">100</text>
<text x="236.8" y="34.1" font-size="9.2">100</text>
<text x="60.1" y="226.8" font-size="9.2" text-anchor="middle">-40</text>
<text x="96.3" y="226.8" font-size="9.2" text-anchor="middle">-20</text>
<text x="132.6" y="226.8" font-size="9.2" text-anchor="middle">0</text>
<text x="168.8" y="226.8" font-size="9.2" text-anchor="middle">20</text>
<text x="205.1" y="226.8" font-size="9.2" text-anchor="middle">40</text>
<text x="132.4" y="237.3" font-size="10.2" font-weight="bold" text-anchor="middle">x [mm]</text>
<text transform="translate(13.4,113.4) rotate(-90)" font-size="10" font-weight="bold" text-anchor="middle">y [mm]</text>
<text transform="translate(261,113.3) rotate(-90)" font-size="9.8" font-weight="bold" text-anchor="middle">y [mm]</text>
<text x="5.1" y="14.6" font-size="10.5">a)</text>
<text x="270.5" y="15.1" font-size="10.5">b)</text>
<rect x="335.8" y="156.1" width="6.9" height="4.9" fill="#d3d3d3"/>
<rect x="346.2" y="147.9" width="6.9" height="13.1" fill="#d3d3d3"/>
<rect x="356.6" y="122.1" width="6.9" height="38.9" fill="#d3d3d3"/>
<rect x="367.0" y="51.8" width="6.9" height="109.2" fill="#d3d3d3"/>
<rect x="377.4" y="59.3" width="6.9" height="101.7" fill="#d3d3d3"/>
<rect x="387.8" y="132.6" width="6.9" height="28.4" fill="#d3d3d3"/>
<rect x="398.2" y="154.6" width="6.9" height="6.4" fill="#d3d3d3"/>
<rect x="408.6" y="155.8" width="6.9" height="5.2" fill="#d3d3d3"/>
<rect x="419.0" y="144.9" width="6.9" height="16.1" fill="#d3d3d3"/>
<rect x="429.4" y="144.9" width="6.9" height="16.1" fill="#d3d3d3"/>
<rect x="439.8" y="145.7" width="6.9" height="15.3" fill="#d3d3d3"/>
<rect x="450.2" y="144.9" width="6.9" height="16.1" fill="#d3d3d3"/>
<polyline points="302.8,161.00 303.8,161.00 304.8,161.00 305.8,161.00 306.8,161.00 307.8,161.00 308.8,161.00 309.8,161.00 310.8,161.00 311.8,161.00 312.8,161.00 313.8,161.00 314.8,161.00 315.8,161.00 316.8,161.00 317.8,160.99 318.8,160.99 319.8,160.99 320.8,160.98 321.8,160.97 322.8,160.96 323.8,160.95 324.8,160.93 325.8,160.91 326.8,160.88 327.8,160.84 328.8,160.79 329.8,160.72 330.8,160.63 331.8,160.52 332.8,160.38 333.8,160.21 334.8,159.99 335.8,159.71 336.8,159.37 337.8,158.96 338.8,158.45 339.8,157.84 340.8,157.11 341.8,156.23 342.8,155.20 343.8,153.98 344.8,152.56 345.8,150.92 346.8,149.02 347.8,146.86 348.8,144.41 349.8,141.65 350.8,138.57 351.8,135.16 352.8,131.41 353.8,127.32 354.8,122.90 355.8,118.16 356.8,113.13 357.8,107.83 358.8,102.30 359.8,96.60 360.8,90.76 361.8,84.87 362.8,78.99 363.8,73.18 364.8,67.54 365.8,62.14 366.8,57.07 367.8,52.40 368.8,48.21 369.8,44.58 370.8,41.55 371.8,39.20 372.8,37.55 373.8,36.64 374.8,36.49 375.8,37.10 376.8,38.45 377.8,40.53 378.8,43.29 379.8,46.69 380.8,50.67 381.8,55.15 382.8,60.07 383.8,65.35 384.8,70.90 385.8,76.65 386.8,82.51 387.8,88.41 388.8,94.27 389.8,100.04 390.8,105.64 391.8,111.04 392.8,116.18 393.8,121.04 394.8,125.59 395.8,129.81 396.8,133.70 397.8,137.24 398.8,140.46 399.8,143.34 400.8,145.91 401.8,148.19 402.8,150.19 403.8,151.93 404.8,153.44 405.8,154.74 406.8,155.84 407.8,156.78 408.8,157.56 409.8,158.22 410.8,158.77 411.8,159.22 412.8,159.58 413.8,159.88 414.8,160.12 415.8,160.32 416.8,160.47 417.8,160.59 418.8,160.69 419.8,160.76 420.8,160.82 421.8,160.87 422.8,160.90 423.8,160.93 424.8,160.94 425.8,160.96 426.8,160.97 427.8,160.98 428.8,160.98 429.8,160.99 430.8,160.99 431.8,160.99 432.8,161.00 433.8,161.00 434.8,161.00 435.8,161.00 436.8,161.00 437.8,161.00 438.8,161.00 439.8,161.00 440.8,161.00 441.8,161.00 442.8,161.00 443.8,161.00 444.8,161.00 445.8,161.00 446.8,161.00 447.8,161.00 448.8,161.00 449.8,161.00 450.8,161.00 451.8,161.00 452.8,161.00 453.8,161.00 454.8,161.00 455.8,161.00 456.8,161.00 457.8,161.00 458.8,161.00 459.8,161.00 460.8,161.00 461.8,161.00 462.8,161.00 463.8,161.00 464.8,161.00 465.8,161.00 466.8,161.00 467.8,161.00 468.8,161.00 469.8,161.00 470.8,161.00 471.8,161.00 472.8,161.00 473.8,161.00 474.8,161.00 475.8,161.00 476.8,161.00 477.8,161.00 478.8,161.00 479.8,161.00 480.8,161.00 481.8,161.00 482.8,161.00 483.8,161.00 484.8,161.00 485.8,161.00 486.8,161.00 487.8,161.00 488.8,161.00 489.8,161.00 490.8,161.00 491.8,161.00 492.8,161.00 493.8,161.00 494.8,161.00 495.8,161.00 496.8,161.00 497.8,161.00 498.8,161.00 499.8,161.00 500.8,161.00 501.8,161.00 502.8,161.00 503.8,161.00 504.8,161.00 505.8,161.00 506.8,161.00 507.8,161.00 508.8,161.00 509.8,161.00" fill="none" stroke="#4a4a4a" stroke-width="0.9"/>
<polyline points="302.8,161.00 303.8,161.00 304.8,161.00 305.8,161.00 306.8,161.00 307.8,161.00 308.8,161.00 309.8,161.00 310.8,161.00 311.8,161.00 312.8,161.00 313.8,161.00 314.8,161.00 315.8,161.00 316.8,161.00 317.8,161.00 318.8,161.00 319.8,161.00 320.8,161.00 321.8,161.00 322.8,161.00 323.8,160.99 324.8,160.99 325.8,160.99 326.8,160.99 327.8,160.98 328.8,160.97 329.8,160.96 330.8,160.95 331.8,160.94 332.8,160.92 333.8,160.89 334.8,160.86 335.8,160.82 336.8,160.76 337.8,160.69 338.8,160.61 339.8,160.50 340.8,160.37 341.8,160.21 342.8,160.02 343.8,159.78 344.8,159.50 345.8,159.15 346.8,158.75 347.8,158.26 348.8,157.69 349.8,157.03 350.8,156.26 351.8,155.36 352.8,154.34 353.8,153.17 354.8,151.84 355.8,150.34 356.8,148.66 357.8,146.79 358.8,144.72 359.8,142.44 360.8,139.95 361.8,137.24 362.8,134.31 363.8,131.16 364.8,127.81 365.8,124.24 366.8,120.49 367.8,116.55 368.8,112.45 369.8,108.20 370.8,103.83 371.8,99.36 372.8,94.82 373.8,90.23 374.8,85.62 375.8,81.01 376.8,76.45 377.8,71.94 378.8,67.53 379.8,63.23 380.8,59.07 381.8,55.07 382.8,51.24 383.8,47.59 384.8,44.15 385.8,40.92 386.8,37.91 387.8,35.11 388.8,32.53 389.8,30.17 390.8,28.01 391.8,26.06 392.8,24.31 393.8,22.74 394.8,21.34 395.8,20.11 396.8,19.03 397.8,18.08 398.8,17.27 399.8,16.56 400.8,15.95 401.8,15.44 402.8,15.00 403.8,14.63 404.8,14.33 405.8,14.07 406.8,13.86 407.8,13.69 408.8,13.55 409.8,13.43 410.8,13.34 411.8,13.26 412.8,13.20 413.8,13.16 414.8,13.12 415.8,13.09 416.8,13.07 417.8,13.05 418.8,13.04 419.8,13.03 420.8,13.02 421.8,13.02 422.8,13.01 423.8,13.01 424.8,13.01 425.8,13.00 426.8,13.00 427.8,13.00 428.8,13.00 429.8,13.00 430.8,13.00 431.8,13.00 432.8,13.00 433.8,13.00 434.8,13.00 435.8,13.00 436.8,13.00 437.8,13.00 438.8,13.00 439.8,13.00 440.8,13.00 441.8,13.00 442.8,13.00 443.8,13.00 444.8,13.00 445.8,13.00 446.8,13.00 447.8,13.00 448.8,13.00 449.8,13.00 450.8,13.00 451.8,13.00 452.8,13.00 453.8,13.00 454.8,13.00 455.8,13.00 456.8,13.00 457.8,13.00 458.8,13.00 459.8,13.00 460.8,13.00 461.8,13.00 462.8,13.00 463.8,13.00 464.8,13.00 465.8,13.00 466.8,13.00 467.8,13.00 468.8,13.00 469.8,13.00 470.8,13.00 471.8,13.00 472.8,13.00 473.8,13.00 474.8,13.00 475.8,13.00 476.8,13.00 477.8,13.00 478.8,13.00 479.8,13.00 480.8,13.00 481.8,13.00 482.8,13.00 483.8,13.00 484.8,13.00 485.8,13.00 486.8,13.00 487.8,13.00 488.8,13.00 489.8,13.00 490.8,13.00 491.8,13.00 492.8,13.00 493.8,13.00 494.8,13.00 495.8,13.00 496.8,13.00 497.8,13.00 498.8,13.00 499.8,13.00 500.8,13.00 501.8,13.00 502.8,13.00 503.8,13.00 504.8,13.00 505.8,13.00 506.8,13.00 507.8,13.00 508.8,13.00 509.8,13.00 510.8,13.00" fill="none" stroke="#2a2a2a" stroke-width="1.05" stroke-dasharray="3,2.2"/>
<path d="M303,12 V161 H510.8 M510.8,12 V161" stroke="#333" stroke-width="1.4" fill="none"/>
<path d="M299.5,161.0H303 M299.5,123.6H303 M299.5,86.2H303 M299.5,48.8H303 M299.5,11.4H303 M301,153.5H303 M301,146.0H303 M301,138.6H303 M301,131.1H303 M301,116.1H303 M301,108.6H303 M301,101.2H303 M301,93.7H303 M301,78.7H303 M301,71.2H303 M301,63.8H303 M301,56.3H303 M301,41.3H303 M301,33.8H303 M301,26.4H303 M301,18.9H303 M510.8,161.0H514.3 M510.8,153.6H512.8 M510.8,146.2H512.8 M510.8,138.8H512.8 M510.8,131.4H514.3 M510.8,124.0H512.8 M510.8,116.6H512.8 M510.8,109.2H512.8 M510.8,101.8H514.3 M510.8,94.4H512.8 M510.8,87.0H512.8 M510.8,79.6H512.8 M510.8,72.2H514.3 M510.8,64.8H512.8 M510.8,57.4H512.8 M510.8,50.0H512.8 M510.8,42.6H514.3 M510.8,35.2H512.8 M510.8,27.8H512.8 M510.8,20.4H512.8 M510.8,13.0H514.3 M302.8,161V164.5 M313.2,161V163 M323.6,161V163 M334.0,161V163 M344.4,161V163 M354.8,161V164.5 M365.2,161V163 M375.6,161V163 M386.0,161V163 M396.4,161V163 M406.8,161V164.5 M417.2,161V163 M427.6,161V163 M438.0,161V163 M448.4,161V163 M458.8,161V164.5 M469.2,161V163 M479.6,161V163 M490.0,161V163 M500.4,161V163 M510.8,161V164.5" stroke="#333" stroke-width="0.9" fill="none"/>
<text x="298.6" y="164.5" font-size="10" text-anchor="end">0</text>
<text x="298.6" y="127.1" font-size="10" text-anchor="end">0.1</text>
<text x="298.6" y="89.7" font-size="10" text-anchor="end">0.2</text>
<text x="298.6" y="52.3" font-size="10" text-anchor="end">0.3</text>
<text x="298.6" y="14.9" font-size="10" text-anchor="end">0.4</text>
<text x="515" y="164.5" font-size="10">0</text>
<text x="515" y="134.9" font-size="10">0.2</text>
<text x="515" y="105.3" font-size="10">0.4</text>
<text x="515" y="75.7" font-size="10">0.6</text>
<text x="515" y="46.1" font-size="10">0.8</text>
<text x="515" y="16.5" font-size="10">1</text>
<text x="302.8" y="173.4" font-size="10" text-anchor="middle">0</text>
<text x="354.8" y="173.4" font-size="10" text-anchor="middle">25</text>
<text x="406.8" y="173.4" font-size="10" text-anchor="middle">50</text>
<text x="458.8" y="173.4" font-size="10" text-anchor="middle">75</text>
<text x="510.8" y="173.4" font-size="10" text-anchor="middle">100</text>
<text x="331.3" y="183.4" font-size="10.5">dimensionless mixing time <tspan font-weight="bold">N</tspan><tspan font-weight="bold" font-size="6.6" dy="2.8">M</tspan><tspan dy="-2.8"> </tspan><tspan font-weight="bold">[-]</tspan></text>
<text transform="translate(279.2,85.5) rotate(-90)" font-size="10.4" text-anchor="middle">distribution density</text>
<text transform="translate(543.1,86.1) rotate(-90)" font-size="10.2" text-anchor="middle">cumulative distribution</text>
<rect x="313.40" y="207" width="6.30" height="11.5" fill="#f3f3f9"/>
<rect x="319.40" y="207" width="11.03" height="11.5" fill="#e6e6f3"/>
<rect x="330.13" y="207" width="11.03" height="11.5" fill="#dfdff0"/>
<rect x="340.86" y="207" width="11.03" height="11.5" fill="#d6d8ed"/>
<rect x="351.59" y="207" width="11.03" height="11.5" fill="#cdd2ea"/>
<rect x="362.32" y="207" width="11.03" height="11.5" fill="#c4cfea"/>
<rect x="373.05" y="207" width="11.03" height="11.5" fill="#b9c9e6"/>
<rect x="383.78" y="207" width="11.03" height="11.5" fill="#adc4e4"/>
<rect x="394.51" y="207" width="11.03" height="11.5" fill="#9ebde2"/>
<rect x="405.24" y="207" width="11.03" height="11.5" fill="#91b7de"/>
<rect x="415.97" y="207" width="11.03" height="11.5" fill="#80b0da"/>
<rect x="426.70" y="207" width="11.03" height="11.5" fill="#6ca7d6"/>
<rect x="437.43" y="207" width="11.03" height="11.5" fill="#5c9fd2"/>
<rect x="448.16" y="207" width="11.03" height="11.5" fill="#4a99d0"/>
<rect x="458.89" y="207" width="11.03" height="11.5" fill="#3994ce"/>
<rect x="469.62" y="207" width="11.03" height="11.5" fill="#2a8ccb"/>
<rect x="480.35" y="207" width="11.03" height="11.5" fill="#1f83c5"/>
<rect x="491.08" y="207" width="11.03" height="11.5" fill="#1577bd"/>
<rect x="501.81" y="207" width="11.03" height="11.5" fill="#0f6cb1"/>
<rect x="512.54" y="207" width="11.03" height="11.5" fill="#0e64a9"/>
<rect x="523.27" y="207" width="11.03" height="11.5" fill="#0b5a9c"/>
<rect x="534.00" y="207" width="6.30" height="11.5" fill="#0a4b86"/>
<path d="M319.40,207V218.5 M340.86,207V218.5 M362.32,207V218.5 M383.78,207V218.5 M405.24,207V218.5 M426.70,207V218.5 M448.16,207V218.5 M469.62,207V218.5 M491.08,207V218.5 M512.54,207V218.5 M534.00,207V218.5" stroke="#27313d" stroke-opacity="0.85" stroke-width="0.6" fill="none"/>
<rect x="313.4" y="207" width="226.6" height="11.5" fill="none" stroke="#666" stroke-width="0.6"/>
<text class="g" x="319.4" y="202.3" font-size="8.7" text-anchor="middle">0.50</text>
<text class="g" x="319.4" y="230.8" font-size="8.7" text-anchor="middle">0</text>
<text class="g" x="340.9" y="202.3" font-size="8.7" text-anchor="middle">0.45</text>
<text class="g" x="340.9" y="230.8" font-size="8.7" text-anchor="middle">10</text>
<text class="g" x="362.3" y="202.3" font-size="8.7" text-anchor="middle">0.40</text>
<text class="g" x="362.3" y="230.8" font-size="8.7" text-anchor="middle">20</text>
<text class="g" x="383.8" y="202.3" font-size="8.7" text-anchor="middle">0.35</text>
<text class="g" x="383.8" y="230.8" font-size="8.7" text-anchor="middle">30</text>
<text class="g" x="405.2" y="202.3" font-size="8.7" text-anchor="middle">0.30</text>
<text class="g" x="405.2" y="230.8" font-size="8.7" text-anchor="middle">40</text>
<text class="g" x="426.7" y="202.3" font-size="8.7" text-anchor="middle">0.25</text>
<text class="g" x="426.7" y="230.8" font-size="8.7" text-anchor="middle">50</text>
<text class="g" x="448.2" y="202.3" font-size="8.7" text-anchor="middle">0.20</text>
<text class="g" x="448.2" y="230.8" font-size="8.7" text-anchor="middle">60</text>
<text class="g" x="469.6" y="202.3" font-size="8.7" text-anchor="middle">0.15</text>
<text class="g" x="469.6" y="230.8" font-size="8.7" text-anchor="middle">70</text>
<text class="g" x="491.1" y="202.3" font-size="8.7" text-anchor="middle">0.10</text>
<text class="g" x="491.1" y="230.8" font-size="8.7" text-anchor="middle">80</text>
<text class="g" x="512.5" y="202.3" font-size="8.7" text-anchor="middle">0.05</text>
<text class="g" x="512.5" y="230.8" font-size="8.7" text-anchor="middle">90</text>
<text class="g" x="534.0" y="202.3" font-size="8.7" text-anchor="middle">0.00</text>
<text class="g" x="534.0" y="230.8" font-size="8.7" text-anchor="middle">100</text>
<text x="272.5" y="202.2" font-size="10" font-weight="bold">v (m/s)</text>
<text x="276.5" y="231.3" font-size="10" font-weight="bold">N<tspan font-size="6.6" dy="2.3">M</tspan><tspan dy="-2.3"> [-]</tspan></text>
</svg></body></html>
